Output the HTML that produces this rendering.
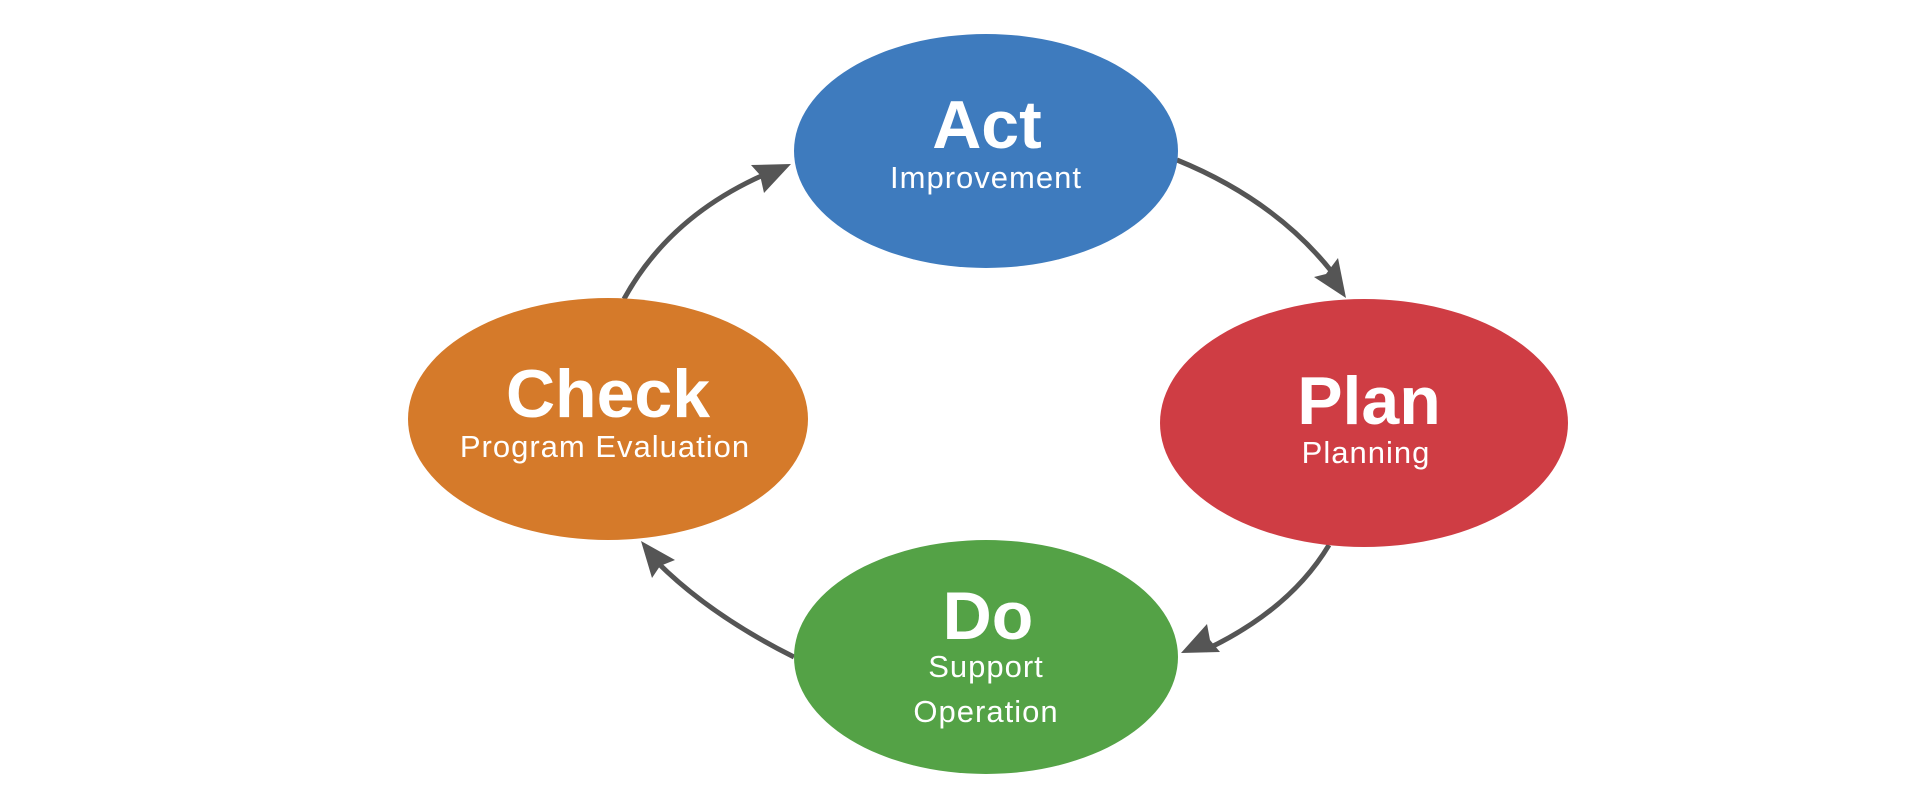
<!DOCTYPE html>
<html><head><meta charset="utf-8"><style>
html,body{margin:0;padding:0;background:#fff;}
svg{display:block;}
text{font-family:"Liberation Sans",sans-serif;fill:#fff;text-anchor:middle;}
.t{font-weight:bold;font-size:68px;}
.s{font-size:31px;letter-spacing:1px;}
</style></head><body>
<svg width="1920" height="792" viewBox="0 0 1920 792">
<g fill="none" stroke="#555" stroke-width="5">
<path d="M1177,160 Q1275,200 1332,272"/>
<path d="M1329,545 Q1290,610 1205,650"/>
<path d="M794,657 Q710,615 657,562"/>
<path d="M624,299 Q670,215 768,173"/>
</g>
<g fill="#555">
<polygon points="1346,298 1314,277 1326,274 1338,258"/>
<polygon points="1181,653 1207,624 1210,640 1220,652"/>
<polygon points="641,541 675,560 660,566 652,578"/>
<polygon points="791,164 751,165 760,175 764,193"/>
</g>
<ellipse cx="986" cy="151" rx="192" ry="117" fill="#3e7bbe"/>
<ellipse cx="1364" cy="423" rx="204" ry="124" fill="#cf3d44"/>
<ellipse cx="608" cy="419" rx="200" ry="121" fill="#d57a2a"/>
<ellipse cx="986" cy="657" rx="192" ry="117" fill="#54a246"/>
<text class="t" x="987" y="148">Act</text>
<text class="s" x="986" y="188">Improvement</text>
<text class="t" x="1369" y="424">Plan</text>
<text class="s" x="1366" y="463">Planning</text>
<text class="t" x="608" y="417">Check</text>
<text class="s" x="605" y="457">Program Evaluation</text>
<text class="t" x="988" y="639">Do</text>
<text class="s" x="986" y="677">Support</text>
<text class="s" x="986" y="722">Operation</text>
</svg>
</body></html>
